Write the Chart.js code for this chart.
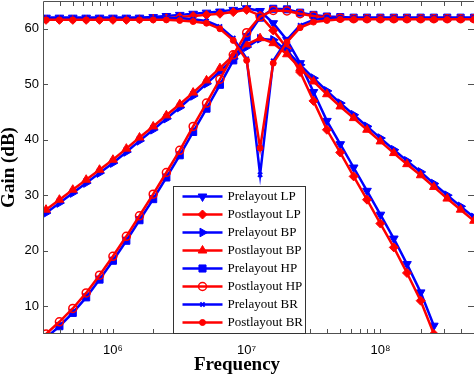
<!DOCTYPE html>
<html>
<head>
<meta charset="utf-8">
<script src="https://cdn.jsdelivr.net/npm/chart.js@4.4.0/dist/chart.umd.min.js"></script>
<style>
  html, body { margin: 0; padding: 0; background: #fff; }
  #gainChart { display: block; }
</style>
</head>
<body>
<canvas id="gainChart" width="474" height="375"></canvas>
<script>
// frequency points (Hz), 0.1 decade apart
const freqs = [3.16e5, 3.98e5, 5.01e5, 6.31e5, 7.94e5,
  1e6, 1.26e6, 1.58e6, 2e6, 2.51e6, 3.16e6, 3.98e6, 5.01e6, 6.31e6, 7.94e6,
  1e7, 1.26e7, 1.58e7, 2e7, 2.51e7, 3.16e7, 3.98e7, 5.01e7, 6.31e7, 7.94e7,
  1e8, 1.26e8, 1.58e8, 2e8, 2.51e8, 3.16e8, 3.98e8, 5.01e8];

const preLP  = [62.0, 62.0, 62.0, 62.0, 62.0, 62.0, 62.0, 62.0, 62.1, 62.3, 62.5, 62.7, 62.9, 63.1, 63.4, 63.7, 63.2, 61.0, 58.0, 53.8, 48.6, 43.4, 39.2, 35.0, 30.8, 26.5, 22.2, 17.6, 12.5, 6.5, null, null, null];
const postLP = [61.6, 61.6, 61.6, 61.6, 61.6, 61.6, 61.6, 61.7, 61.8, 61.9, 62.1, 62.3, 62.5, 62.7, 63.0, 63.4, 62.4, 59.7, 56.5, 52.2, 47.0, 41.8, 37.7, 33.4, 29.2, 24.9, 20.6, 16.0, 11.0, 5.0, null, null, null];
const preBP  = [26.8, 28.6, 30.4, 32.2, 34.0, 35.8, 37.8, 39.8, 41.8, 43.8, 45.8, 47.9, 50.1, 52.3, 54.6, 56.7, 58.2, 58.0, 56.0, 53.5, 51.1, 48.8, 46.6, 44.5, 42.4, 40.3, 38.2, 36.2, 34.2, 32.1, 30.0, 28.0, 26.0];
const postBP = [27.4, 29.2, 31.0, 32.8, 34.6, 36.4, 38.4, 40.4, 42.4, 44.4, 46.4, 48.5, 50.7, 52.9, 55.2, 57.2, 58.3, 57.4, 55.4, 52.9, 50.5, 48.2, 46.0, 43.9, 41.8, 39.7, 37.6, 35.6, 33.6, 31.5, 29.4, 27.4, 25.4];
const preHP  = [4.3, 6.4, 8.8, 11.6, 14.8, 18.2, 21.8, 25.5, 29.3, 33.2, 37.2, 41.4, 45.6, 49.9, 54.3, 58.5, 62.0, 63.6, 63.5, 62.9, 62.5, 62.2, 62.1, 62.0, 62.0, 62.0, 62.0, 62.0, 62.0, 62.0, 62.0, 62.0, 62.0];
const postHP = [5.0, 7.2, 9.6, 12.4, 15.6, 19.0, 22.6, 26.3, 30.2, 34.1, 38.1, 42.4, 46.6, 50.9, 55.3, 59.3, 62.2, 63.3, 63.2, 62.7, 62.3, 62.0, 61.9, 61.8, 61.8, 61.8, 61.8, 61.8, 61.8, 61.8, 61.8, 61.8, 61.8];
const preBR  = [62.0, 62.0, 62.0, 62.0, 62.0, 62.0, 62.0, 62.0, 62.0, 62.0, 61.9, 61.7, 61.4, 60.4, 58.3, 54.6, 33.7, 54.2, 58.0, 60.6, 61.6, 61.9, 62.0, 62.0, 62.0, 62.0, 62.0, 62.0, 62.0, 62.0, 62.0, 62.0, 62.0];
const postBR = [61.6, 61.6, 61.6, 61.6, 61.6, 61.6, 61.6, 61.6, 61.6, 61.6, 61.5, 61.3, 61.0, 60.0, 57.9, 54.3, 38.5, 53.8, 57.6, 60.2, 61.2, 61.5, 61.7, 61.7, 61.7, 61.7, 61.7, 61.7, 61.7, 61.7, 61.7, 61.7, 61.7];

const seriesNames = ['Prelayout LP', 'Postlayout LP', 'Prelayout BP', 'Postlayout BP',
                     'Prelayout HP', 'Postlayout HP', 'Prelayout BR', 'Postlayout BR'];
const yTicks = [10, 20, 30, 40, 50, 60];
const xDecades = [1e5, 1e6, 1e7, 1e8];

const BLUE = '#0000ff';
const RED = '#ff0000';
const SERIF = '"Liberation Serif", "Times New Roman", serif';
const SANS = '"Liberation Sans", Arial, sans-serif';

const sup = {'0': '⁰', '1': '¹', '2': '²', '3': '³', '4': '⁴', '5': '⁵', '6': '⁶', '7': '⁷', '8': '⁸', '9': '⁹'};

function line(label, data, color, style, radius, opts) {
  return Object.assign({
    label: label,
    data: data,
    borderColor: color,
    backgroundColor: color,
    borderWidth: 2.5,
    pointStyle: style,
    pointRadius: radius,
    pointBackgroundColor: color,
    pointBorderColor: color,
    pointBorderWidth: 1,
    pointRotation: 0,
    tension: 0,
    spanGaps: false
  }, opts || {});
}

const datasets = [
  line(seriesNames[0], preLP, BLUE, 'triangle', 5, {pointRotation: 180}),
  line(seriesNames[1], postLP, RED, 'rectRot', 4.5),
  line(seriesNames[2], preBP, BLUE, 'triangle', 5, {pointRotation: 90}),
  line(seriesNames[3], postBP, RED, 'triangle', 5),
  line(seriesNames[4], preHP, BLUE, 'rect', 5),
  line(seriesNames[5], postHP, RED, 'circle', 4, {pointBackgroundColor: 'rgba(255,255,255,0)', pointBorderWidth: 1.5}),
  line(seriesNames[6], preBR, BLUE, 'crossRot', 3, {pointBorderWidth: 2}),
  line(seriesNames[7], postBR, RED, 'circle', 3)
];
// later series painted on top, like the original plot
datasets.forEach((d, i) => { d.order = datasets.length - i; });

// box, inner tick marks and the in-plot legend
const frameAndLegend = {
  id: 'frameAndLegend',
  afterDatasetsDraw(chart) {
    const {ctx, chartArea: a, scales: {x, y}} = chart;
    ctx.save();
    ctx.strokeStyle = '#505050';
    ctx.lineWidth = 1;
    ctx.beginPath();
    y.ticks.forEach(t => {
      const py = Math.round(y.getPixelForValue(t.value)) + 0.5;
      ctx.moveTo(a.left, py); ctx.lineTo(a.left + 5, py);
      ctx.moveTo(a.right, py); ctx.lineTo(a.right - 6, py);
    });
    x.ticks.forEach(t => {
      if (t.value <= x.min || t.value >= x.max) return;
      const px = Math.round(x.getPixelForValue(t.value)) + 0.5;
      ctx.moveTo(px, a.bottom); ctx.lineTo(px, a.bottom - 5);
      ctx.moveTo(px, a.top); ctx.lineTo(px, a.top + 5);
    });
    ctx.moveTo(a.left + 0.5, a.bottom);
    ctx.lineTo(a.left + 0.5, a.top + 0.5);
    ctx.lineTo(a.right, a.top + 0.5);
    ctx.moveTo(a.left, a.bottom - 0.5);
    ctx.lineTo(a.right, a.bottom - 0.5);
    ctx.stroke();

    // legend
    const bx = 173.5, by = 186.5, bw = 132, bh = 147, rowH = 18;
    ctx.fillStyle = '#fff';
    ctx.fillRect(bx, by, bw, bh);
    ctx.strokeStyle = '#333';
    ctx.strokeRect(bx, by, bw, bh);
    const drawPoint = Chart.helpers && Chart.helpers.drawPoint;
    ctx.font = '13px ' + SERIF;
    ctx.textBaseline = 'middle';
    ctx.textAlign = 'left';
    chart.data.datasets.forEach((d, i) => {
      const ry = by + 10 + i * rowH;
      ctx.strokeStyle = d.borderColor;
      ctx.lineWidth = d.borderWidth;
      ctx.beginPath();
      ctx.moveTo(bx + 9, ry);
      ctx.lineTo(bx + 49, ry);
      ctx.stroke();
      ctx.fillStyle = d.pointBackgroundColor;
      ctx.strokeStyle = d.pointBorderColor;
      ctx.lineWidth = d.pointBorderWidth;
      if (drawPoint) {
        drawPoint(ctx, {pointStyle: d.pointStyle, rotation: d.pointRotation,
          radius: d.pointRadius, borderWidth: d.pointBorderWidth}, bx + 29, ry);
      }
      ctx.fillStyle = '#000';
      ctx.fillText(d.label, bx + 54, ry + 0.5);
    });
    ctx.restore();
  }
};

function noPad(s) {
  s.paddingTop = 0; s.paddingBottom = 0; s.paddingLeft = 0; s.paddingRight = 0;
}

new Chart(document.getElementById('gainChart'), {
  type: 'line',
  data: {
    labels: freqs,
    datasets: datasets.map(d => Object.assign({}, d, {
      data: d.data.map((v, i) => ({x: freqs[i], y: v}))
    }))
  },
  options: {
    responsive: false,
    animation: false,
    devicePixelRatio: 1,
    layout: { autoPadding: false, padding: { top: 1, right: 0, bottom: 0, left: 0 } },
    plugins: {
      legend: { display: false },
      tooltip: { enabled: false },
      title: {
        display: true,
        position: 'bottom',
        text: 'Frequency',
        color: '#000',
        font: { family: SERIF, size: 19, weight: 'bold', lineHeight: 1 },
        padding: { top: 0, bottom: 0 }
      }
    },
    scales: {
      x: {
        type: 'logarithmic',
        min: 3e5,
        max: 5.01e8,
        grid: { display: false, drawTicks: false },
        border: { display: false },
        afterBuildTicks: s => {
          const t = [];
          xDecades.forEach(dec => {
            for (let m = 1; m <= 9; m++) {
              const v = m * dec;
              if (v >= s.min && v <= s.max) t.push({value: v});
            }
          });
          s.ticks = t;
        },
        afterFit: s => { s.height = 22; noPad(s); },
        ticks: {
          autoSkip: false,
          maxRotation: 0,
          minRotation: 0,
          padding: 9,
          color: '#000',
          font: { family: SANS, size: 13 },
          callback: v => {
            const e = Math.round(Math.log10(v));
            if (Math.abs(Math.log10(v) - e) > 1e-6) return '';
            return '10' + String(e).split('').map(c => sup[c]).join('');
          }
        }
      },
      y: {
        min: 5,
        max: 65,
        grid: { display: false, drawTicks: false },
        border: { display: false },
        afterBuildTicks: s => { s.ticks = yTicks.map(v => ({value: v})); },
        afterFit: s => { s.width = 43; noPad(s); },
        ticks: {
          padding: 4,
          color: '#000',
          font: { family: SANS, size: 13 }
        },
        title: {
          display: true,
          text: 'Gain (dB)',
          color: '#000',
          font: { family: SERIF, size: 19, weight: 'bold', lineHeight: 1 },
          padding: { top: 0, bottom: 0 }
        }
      }
    }
  },
  plugins: [frameAndLegend]
});
</script>
</body>
</html>
